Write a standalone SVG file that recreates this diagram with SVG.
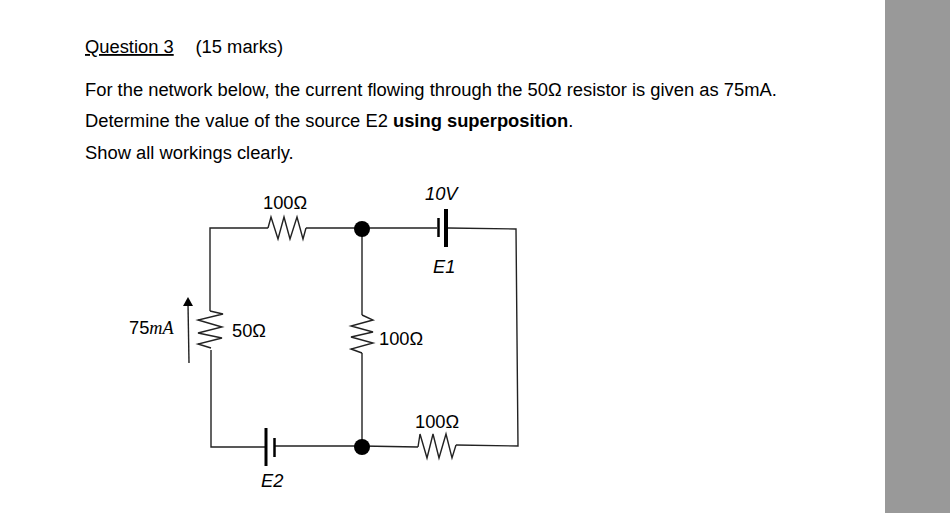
<svg xmlns="http://www.w3.org/2000/svg" width="950" height="513" viewBox="0 0 950 513">
<style>
text{font-family:"Liberation Sans",Arial,sans-serif;fill:#000}
.t{font-size:18.35px}
.l{font-size:18.300px}
.i{font-style:italic}
.w{fill:none;stroke:#222;stroke-width:1.4}
.b{stroke:#000;fill:none}
</style>
<rect width="950" height="513" fill="#fff"/>
<rect x="885" y="0" width="65" height="513" fill="#999"/>
<g id="question-text">
<text class="t" x="85" y="53" text-decoration="underline">Question 3</text>
<text class="t" x="195.500" y="53">(15 marks)</text>
<text class="t" x="85" y="96">For the network below, the current flowing through the 50Ω resistor is given as 75mA.</text>
<text class="t" x="85" y="127">Determine the value of the source E2 <tspan font-weight="bold">using superposition</tspan>.</text>
<text class="t" x="85" y="159">Show all workings clearly.</text>
</g>
<g id="connectors">
<path class="w" d="M268 228L210 228V311"/>
<path class="w" d="M306 228H362M362 228H437M448 228L516 229L518 446L456 445"/>
<path class="w" d="M211 350V447H265M274 446H362L418 447"/>
<path class="w" d="M362 228V315M362 353V446"/>
<path class="w" d="M189 363L188 304"/>
<path d="M183 306L188 297L193 306Z" fill="#000"/>
</g>
<g id="R1"><text class="l" x="263" y="209">100Ω</text><path class="w" d="M268 228L271 217L278 239L284 217L290 239L297 217L303 239L306 228"/></g>
<g id="R2"><text class="l" x="232" y="337">50Ω</text><path class="w" d="M210 311L223 314L198 320L222 327L198 333L222 338L198 344L211 348"/></g>
<g id="R3"><text class="l" x="379" y="345">100Ω</text><path class="w" d="M362 315L373 320L351 326L373 332L351 337L373 343L351 349L362 353"/></g>
<g id="R4"><text class="l" x="415" y="428">100Ω</text><path class="w" d="M418 447L420 434L427 458L433 434L439 458L446 434L452 458L456 445"/></g>
<g id="E1"><text class="l i" x="425" y="200">10V</text><text class="l i" x="433" y="273">E1</text><path class="b" stroke-width="2.500" d="M438.500 218V237"/><path class="b" stroke-width="4" d="M446 209V247"/></g>
<g id="E2"><text class="l i" x="261" y="487">E2</text><path class="b" stroke-width="3" d="M266 428V466"/><path class="b" stroke-width="2.500" d="M274.500 438V457"/></g>
<g id="node-top"><circle cx="362" cy="229" r="8" fill="#000"/></g>
<g id="node-bottom"><circle cx="362" cy="447" r="8" fill="#000"/></g>
<g id="current-label"><text x="129" y="334" font-size="18.300"><tspan>75</tspan><tspan font-family="Liberation Serif" font-style="italic">mA</tspan></text></g>
</svg>
